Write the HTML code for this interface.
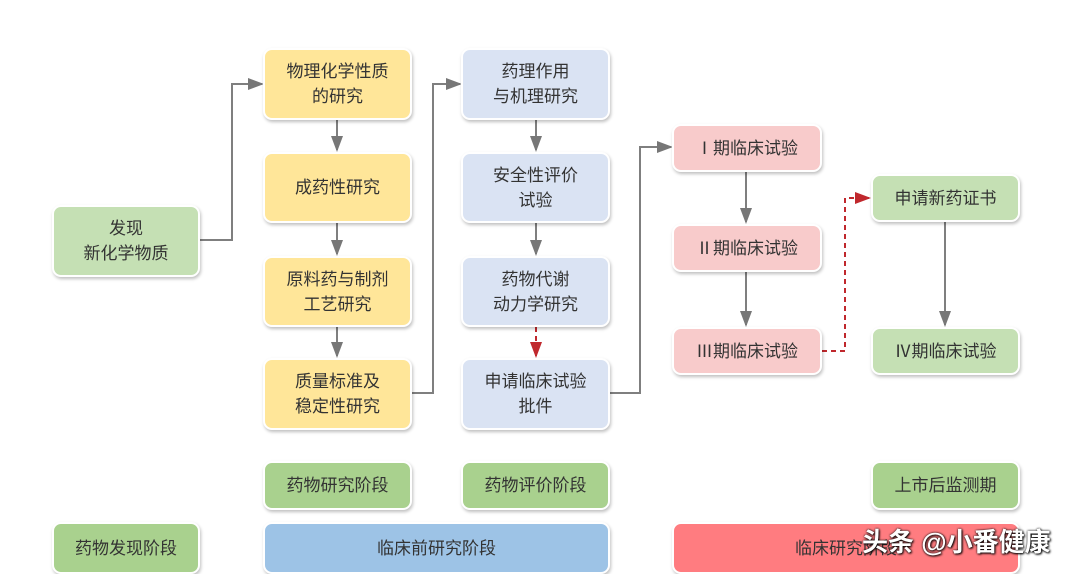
<!DOCTYPE html>
<html><head><meta charset="utf-8"><style>
body{margin:0;width:1080px;height:570px;background:#fff;position:relative;overflow:hidden;font-family:"Liberation Sans","Noto Sans CJK SC",sans-serif;}
.b{position:absolute;box-sizing:border-box;border:2px solid #fff;border-radius:9px;box-shadow:1px 2px 3px rgba(0,0,0,.25);display:flex;align-items:center;justify-content:center;text-align:center;font-size:17px;line-height:25px;color:#333;}
.g{background:#c5e0b4}.y{background:#ffe699}.bl{background:#dae3f3}.p{background:#f8cbcb}
.dg{background:#a9d18e}.db{background:#9dc3e6}.r{background:#ff7c80}
svg{position:absolute;left:0;top:0}
</style></head><body>
<svg width="1080" height="570">
<defs>
<marker id="a" markerWidth="8" markerHeight="8" refX="7" refY="4" orient="auto"><path d="M0,1 L8,4 L0,7z" fill="#777"/></marker>
<marker id="ar" markerWidth="8" markerHeight="8" refX="7" refY="4" orient="auto"><path d="M0,1 L8,4 L0,7z" fill="#c0282d"/></marker>
</defs>
<g stroke="#7f7f7f" stroke-width="2" fill="none" marker-end="url(#a)">
<path d="M200,240 H232 V84 H262"/>
<path d="M412,393 H433 V84 H460"/>
<path d="M610,393 H640 V147 H671"/>
<path d="M337,120 V150"/><path d="M337,223 V254"/><path d="M337,327 V356"/>
<path d="M536,120 V150"/><path d="M536,223 V254"/>
<path d="M746,172 V222"/><path d="M746,272 V325"/>
<path d="M945,222 V325"/>
</g>
<g stroke="#c0282d" stroke-width="2" fill="none" stroke-dasharray="5,4">
<path d="M536,327 V356" marker-end="url(#ar)"/>
<path d="M822,351 H845 V198 H869" marker-end="url(#ar)"/>
</g>
</svg>
<div class="b g" style="left:52px;top:205px;width:148px;height:72px">发现<br>新化学物质</div>
<div class="b y" style="left:263px;top:48px;width:149px;height:72px">物理化学性质<br>的研究</div>
<div class="b y" style="left:263px;top:152px;width:149px;height:71px">成药性研究</div>
<div class="b y" style="left:263px;top:256px;width:149px;height:71px">原料药与制剂<br>工艺研究</div>
<div class="b y" style="left:263px;top:358px;width:149px;height:72px">质量标准及<br>稳定性研究</div>
<div class="b bl" style="left:461px;top:48px;width:149px;height:72px">药理作用<br>与机理研究</div>
<div class="b bl" style="left:461px;top:152px;width:149px;height:71px">安全性评价<br>试验</div>
<div class="b bl" style="left:461px;top:256px;width:149px;height:71px">药物代谢<br>动力学研究</div>
<div class="b bl" style="left:461px;top:358px;width:149px;height:72px">申请临床试验<br>批件</div>
<div class="b p" style="left:672px;top:124px;width:150px;height:48px">Ⅰ期临床试验</div>
<div class="b p" style="left:672px;top:224px;width:150px;height:48px">Ⅱ期临床试验</div>
<div class="b p" style="left:672px;top:327px;width:150px;height:48px">Ⅲ期临床试验</div>
<div class="b g" style="left:871px;top:174px;width:149px;height:48px">申请新药证书</div>
<div class="b g" style="left:871px;top:327px;width:149px;height:48px">Ⅳ期临床试验</div>
<div class="b dg" style="left:263px;top:461px;width:149px;height:49px">药物研究阶段</div>
<div class="b dg" style="left:461px;top:461px;width:149px;height:49px">药物评价阶段</div>
<div class="b dg" style="left:871px;top:461px;width:149px;height:49px">上市后监测期</div>
<div class="b dg" style="left:52px;top:522px;width:148px;height:52px">药物发现阶段</div>
<div class="b db" style="left:263px;top:522px;width:347px;height:52px">临床前研究阶段</div>
<div class="b r" style="left:672px;top:522px;width:348px;height:52px">临床研究阶段</div>
<div style="position:absolute;left:862px;top:522px;font-size:26px;color:#fff;font-weight:bold;text-shadow:1px 1px 2px #000,0 0 2px #000;white-space:nowrap">头条 @小番健康</div>
</body></html>
